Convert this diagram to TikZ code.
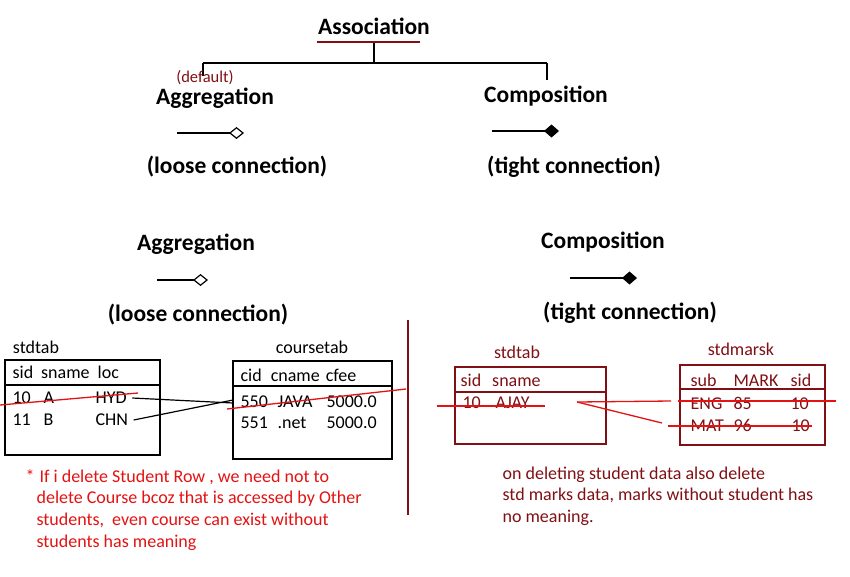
\documentclass[tikz,border=0pt]{standalone}
\usepackage{fontspec}
\setmainfont{Carlito}
\usetikzlibrary{arrows.meta,positioning}
\definecolor{darkred}{RGB}{128,16,20}
\definecolor{notered}{RGB}{228,18,18}

\begin{document}
\begin{tikzpicture}[x=1pt,y=-1pt,line width=1.2pt,
  heading/.style={font=\fontsize{23.5}{27}\selectfont\bfseries,inner sep=0pt},
  cell/.style={font=\fontsize{18}{21}\selectfont,anchor=west,inner sep=0pt},
  note/.style={font=\fontsize{18}{21.6}\selectfont,align=left,anchor=north west,inner sep=0pt},
  tabbox/.style={draw,line width=1.3pt},
  strike/.style={draw=notered,line width=1.3pt},
  opendia/.style={-{Diamond[open,length=15pt,width=12pt,line width=1.2pt]}},
  filldia/.style={-{Diamond[length=15pt,width=13pt]}}]
  \useasboundingbox[fill=white] (0,0) rectangle (850,576);

  % hierarchy on top
  \node[heading](assoc) at (374,26){Association};
  \draw[darkred] (317,42) -- (420,42);
  \coordinate (top) at (374,43);
  \coordinate (bar) at (374,63);
  \draw (top) -- (bar);
  \draw (203,63) -- (547,63);
  \draw (203,63) -- (203,76);
  \draw (547,63) -- (547,80);
  \node[font=\fontsize{16.5}{19}\selectfont,text=darkred,inner sep=0pt,anchor=base](default) at (205,82){(default)};
  \node[heading](aggr) at (215,98){Aggregation};
  \node[heading](comp) at (546,96){Composition};
  \coordinate (aggrL) at (177,133);
  \coordinate (aggrR) at (244,133);
  \draw[opendia] (aggrL) -- (aggrR);
  \coordinate (compL) at (492,131);
  \coordinate (compR) at (559,131);
  \draw[filldia] (compL) -- (compR);
  \node[heading](loose) at (237,167){(loose connection)};
  \node[heading](tight) at (574,167){(tight connection)};

  % second row of headings
  \node[heading](aggrB) at (196,244){Aggregation};
  \node[heading](compB) at (603,242){Composition};
  \coordinate (aggrBL) at (157,280);
  \coordinate (aggrBR) at (208,280);
  \draw[opendia] (aggrBL) -- (aggrBR);
  \coordinate (compBL) at (570,278);
  \coordinate (compBR) at (637,278);
  \draw[filldia] (compBL) -- (compBR);
  \node[heading](looseB) at (198,315){(loose connection)};
  \node[heading](tightB) at (630,313){(tight connection)};

  % separator
  \draw[darkred,line width=1.5pt] (408,320) -- (408,515);

  % aggregation tables
  \node[cell,anchor=center](stdlbl) at (36,347){stdtab};
  \draw[tabbox] (5,360) rectangle (160,455);
  \draw[tabbox] (5,385) -- (160,385);
  \node[cell](stdhead) at (12,372){sid\hspace{8pt}sname\hspace{8pt}loc};
  \node[cell](rowA) at (12,398){\makebox[31pt][l]{10}\makebox[52pt][l]{A}HYD};
  \node[cell](rowB) at (12,420){\makebox[31pt][l]{11}\makebox[52pt][l]{B}CHN};

  \node[cell,anchor=center](courselbl) at (312,347){coursetab};
  \draw[tabbox] (233,361) rectangle (392,459);
  \draw[tabbox] (233,386) -- (392,386);
  \node[cell](coursehead) at (240,375){cid\hspace{9pt}cname\hspace{6pt}cfee};
  \node[cell](rowJava) at (240,402){\makebox[37pt][l]{550}\makebox[49pt][l]{JAVA}5000.0};
  \node[cell](rowNet) at (240,423){\makebox[37pt][l]{551}\makebox[49pt][l]{.net}5000.0};

  \draw ([xshift=5pt]rowA.east) -- ([xshift=-7pt,yshift=-1pt]rowJava.west);
  \draw ([xshift=5pt]rowB.east) -- ([xshift=-7pt,yshift=2pt]rowJava.west);
  \draw[strike] (0,405) -- (138,393);
  \draw[strike] (227,409) -- (406,389);

  \node[note,text=notered](delnote) at (25,469){%
    *\hspace{5pt}If i delete Student Row , we need not to\\
    \hspace{11pt}delete Course bcoz that is accessed by Other\\
    \hspace{11pt}students,\hspace{4pt} even course can exist without\\
    \hspace{11pt}students has meaning};

  % composition tables
  \begin{scope}[darkred]
    \node[cell,anchor=center,text=darkred](stdlblB) at (517,352){stdtab};
    \draw[tabbox] (455,367) rectangle (606,444);
    \draw[tabbox] (455,392) -- (606,392);
    \node[cell,text=darkred](stdheadB) at (460,380){sid\hspace{11pt}sname};
    \node[cell,text=darkred](rowAjay) at (462,403){\makebox[33pt][l]{10}AJAY};

    \node[cell,anchor=center,text=darkred](markslbl) at (741,349){stdmarsk};
    \draw[tabbox] (680,365) rectangle (825,445);
    \draw[tabbox] (680,389) -- (825,389);
    \node[cell,text=darkred](markshead) at (690,380){\makebox[43pt][l]{sub}\makebox[57pt][l]{MARK}sid};
    \node[cell,text=darkred](rowEng) at (690,403){\makebox[43pt][l]{ENG}\makebox[57pt][l]{85}10};
    \node[cell,text=darkred](rowMat) at (690,425){\makebox[43pt][l]{MAT}\makebox[58pt][l]{96}10};
  \end{scope}
  \coordinate (ajayEnd) at (577,402);
  \draw[strike] (ajayEnd) -- ([xshift=-19pt,yshift=2pt]rowEng.west);
  \draw[strike] (ajayEnd) -- ([xshift=-28pt,yshift=2pt]rowMat.west);
  \draw[strike] (437,406) -- (545,406);
  \draw[strike] (678,401) -- (836,401);
  \draw[strike] (668,426) -- (812,426);

  \node[note,text=darkred](compnote) at (502,466){%
    on deleting student data also delete\\
    std marks data, marks without student has\\
    no meaning.};
\end{tikzpicture}
\end{document}
